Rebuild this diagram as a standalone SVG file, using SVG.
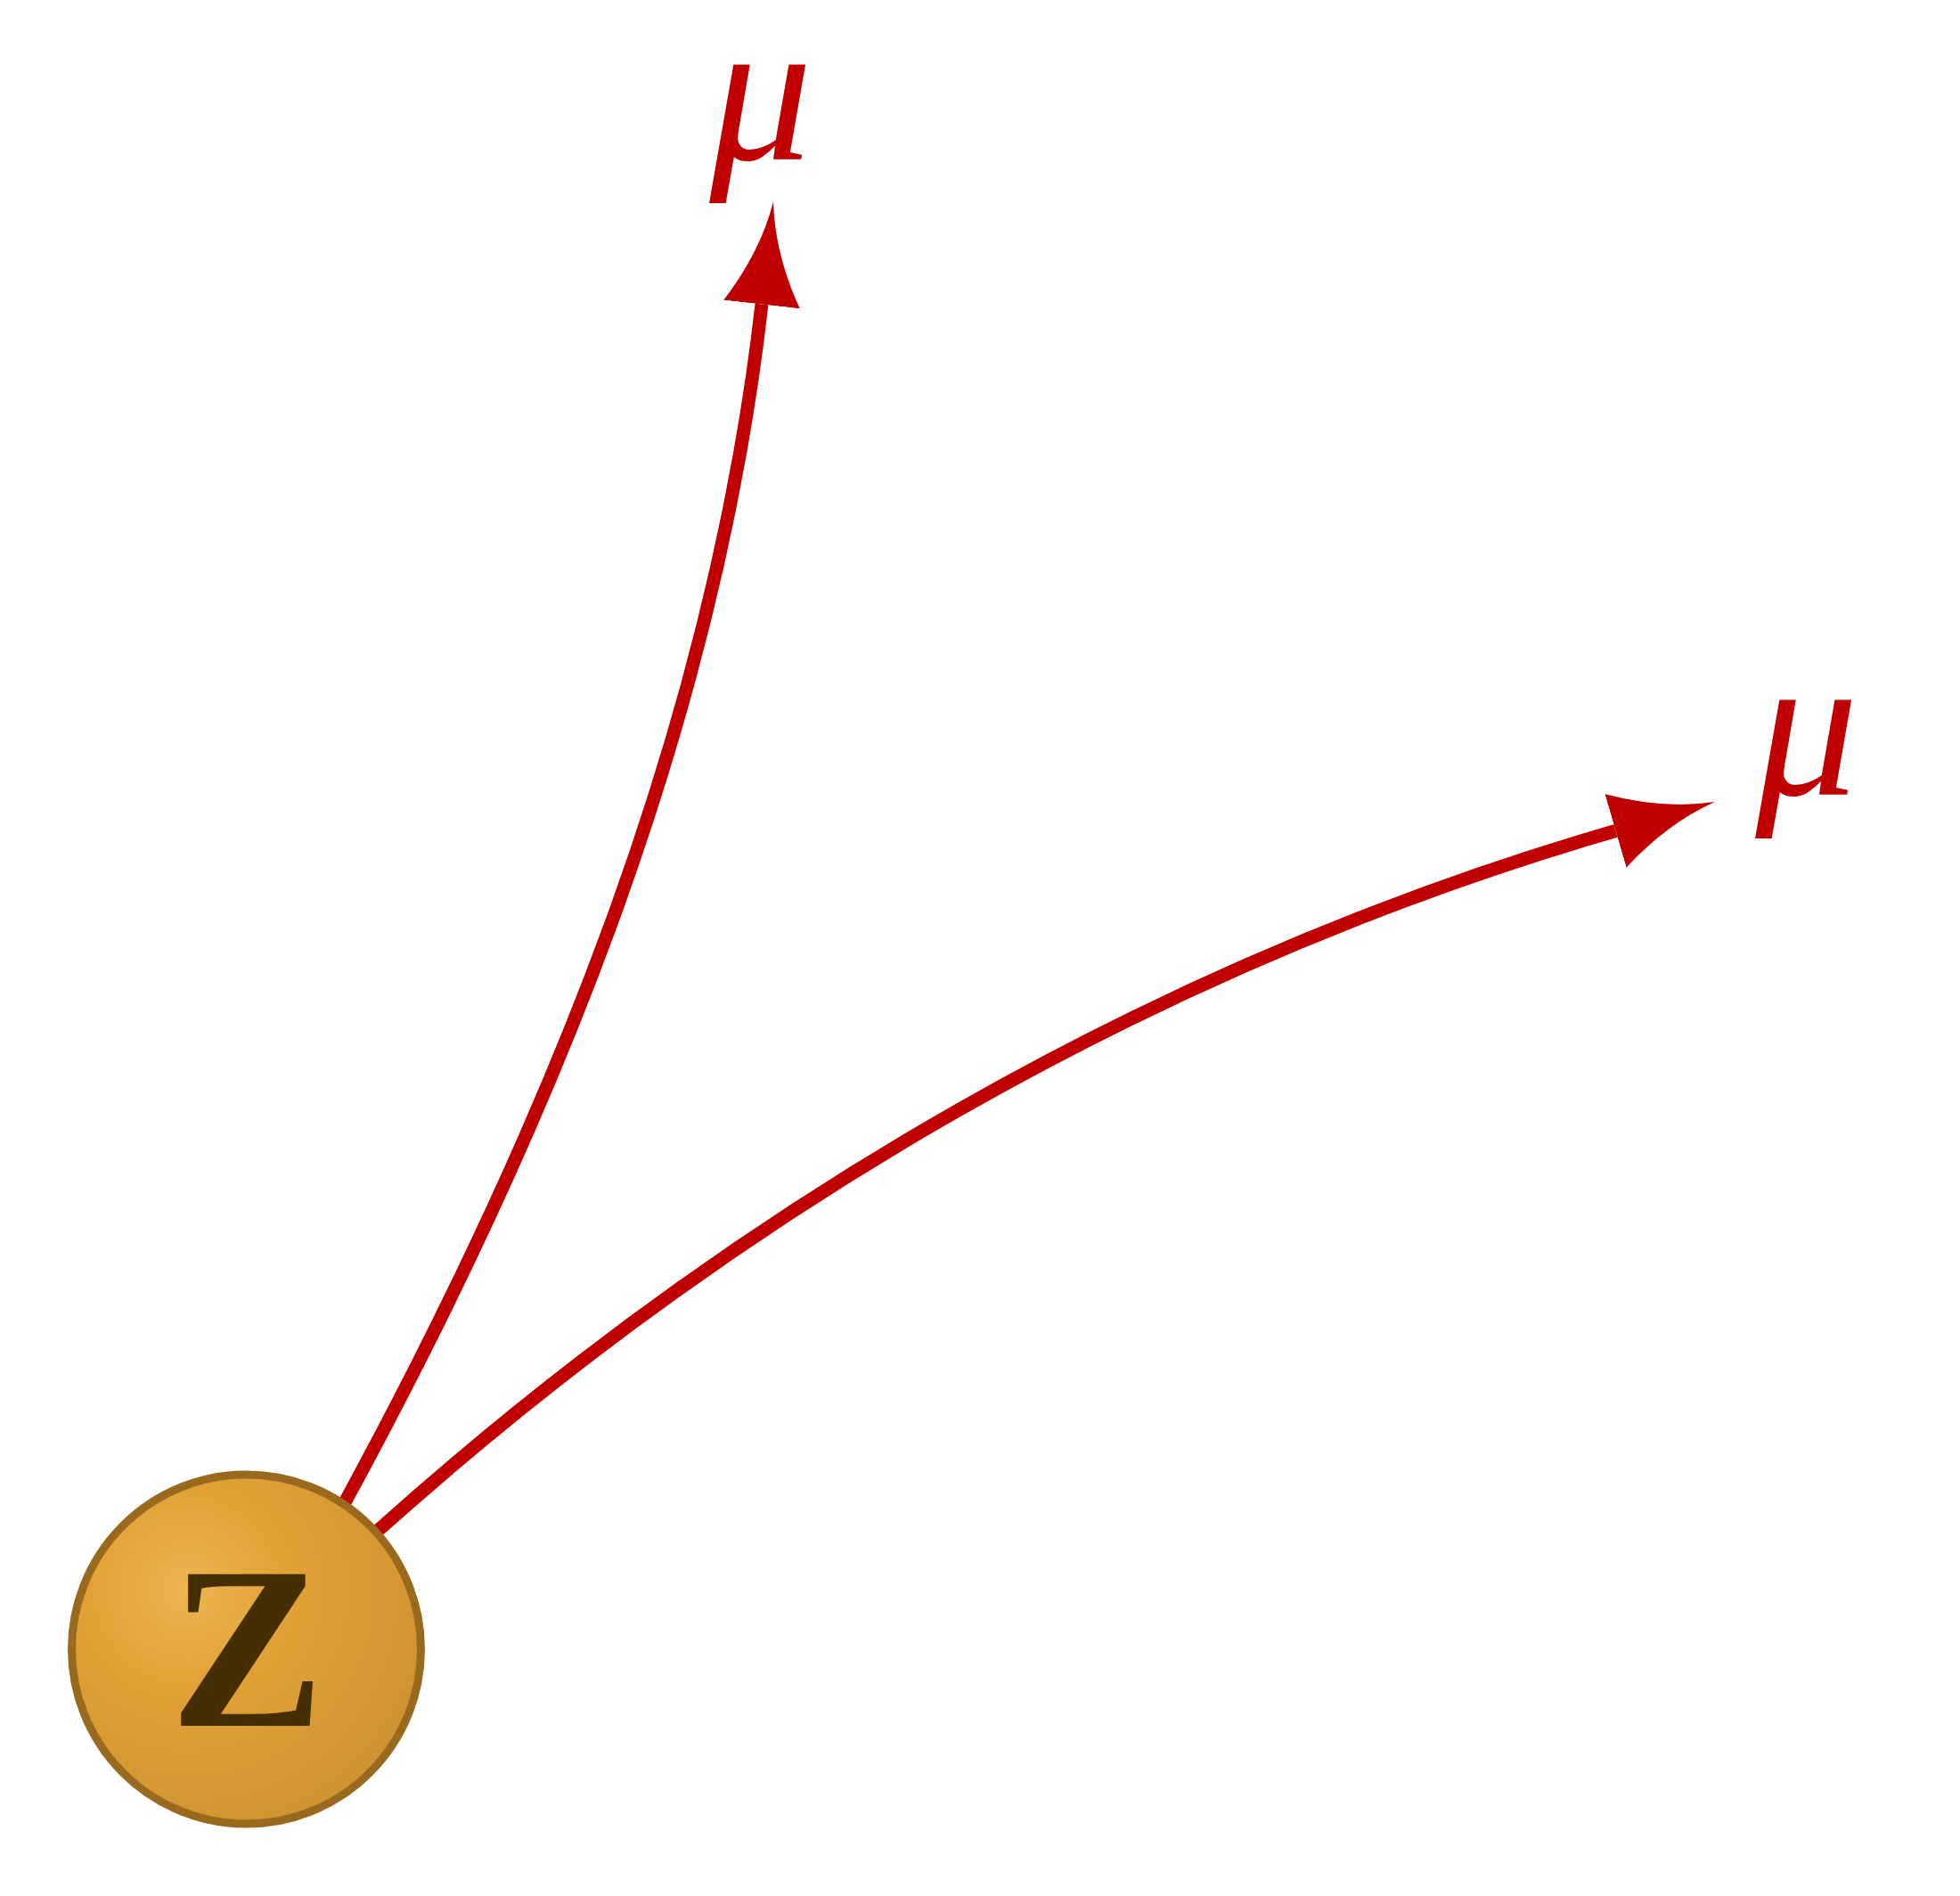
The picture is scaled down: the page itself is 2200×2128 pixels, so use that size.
<svg xmlns="http://www.w3.org/2000/svg" width="2200" height="2128" viewBox="0 0 2200 2128">
<style>
.edge{fill:none;stroke:#c00000;stroke-width:15;marker-end:url(#head)}
.lbl{font-family:"Liberation Serif","DejaVu Serif",serif;font-style:italic;font-size:230px;fill:#c00000;text-anchor:middle}
.node-label{font-family:"Liberation Serif","DejaVu Serif",serif;font-weight:bold;font-size:260px;fill:#452e03;text-anchor:middle}
</style>
<defs>
<marker id="head" markerUnits="userSpaceOnUse" markerWidth="130" markerHeight="100" viewBox="0 -50 130 100" refX="0" refY="0" orient="auto">
<path d="M0,-43 Q58,-8 116,0 Q58,8 0,43 Z" fill="#c00000"/>
</marker>
<radialGradient id="ball" cx="0.33" cy="0.33" r="0.72">
<stop offset="0" stop-color="#edb450"/>
<stop offset="0.4" stop-color="#e2a136"/>
<stop offset="1" stop-color="#cf9331"/>
</radialGradient>
</defs>
<rect width="2200" height="2128" fill="#ffffff"/>
<g id="connectors">
<path class="edge" d="M385,1690 C615,1268 801,818.5 855,341.5"/>
<path class="edge" d="M424,1718 C830,1354 1296,1083 1813.5,932.5"/>
</g>
<g id="node-Z">
<circle cx="276.5" cy="1851" r="196" fill="url(#ball)" stroke="#996a1e" stroke-width="9"/>
<text class="node-label" x="277.5" y="1937">Z</text>
</g>
<g id="label-mu-top">
<text class="lbl" x="854" y="179">μ</text>
</g>
<g id="label-mu-right">
<text class="lbl" x="2028" y="892">μ</text>
</g>
</svg>
